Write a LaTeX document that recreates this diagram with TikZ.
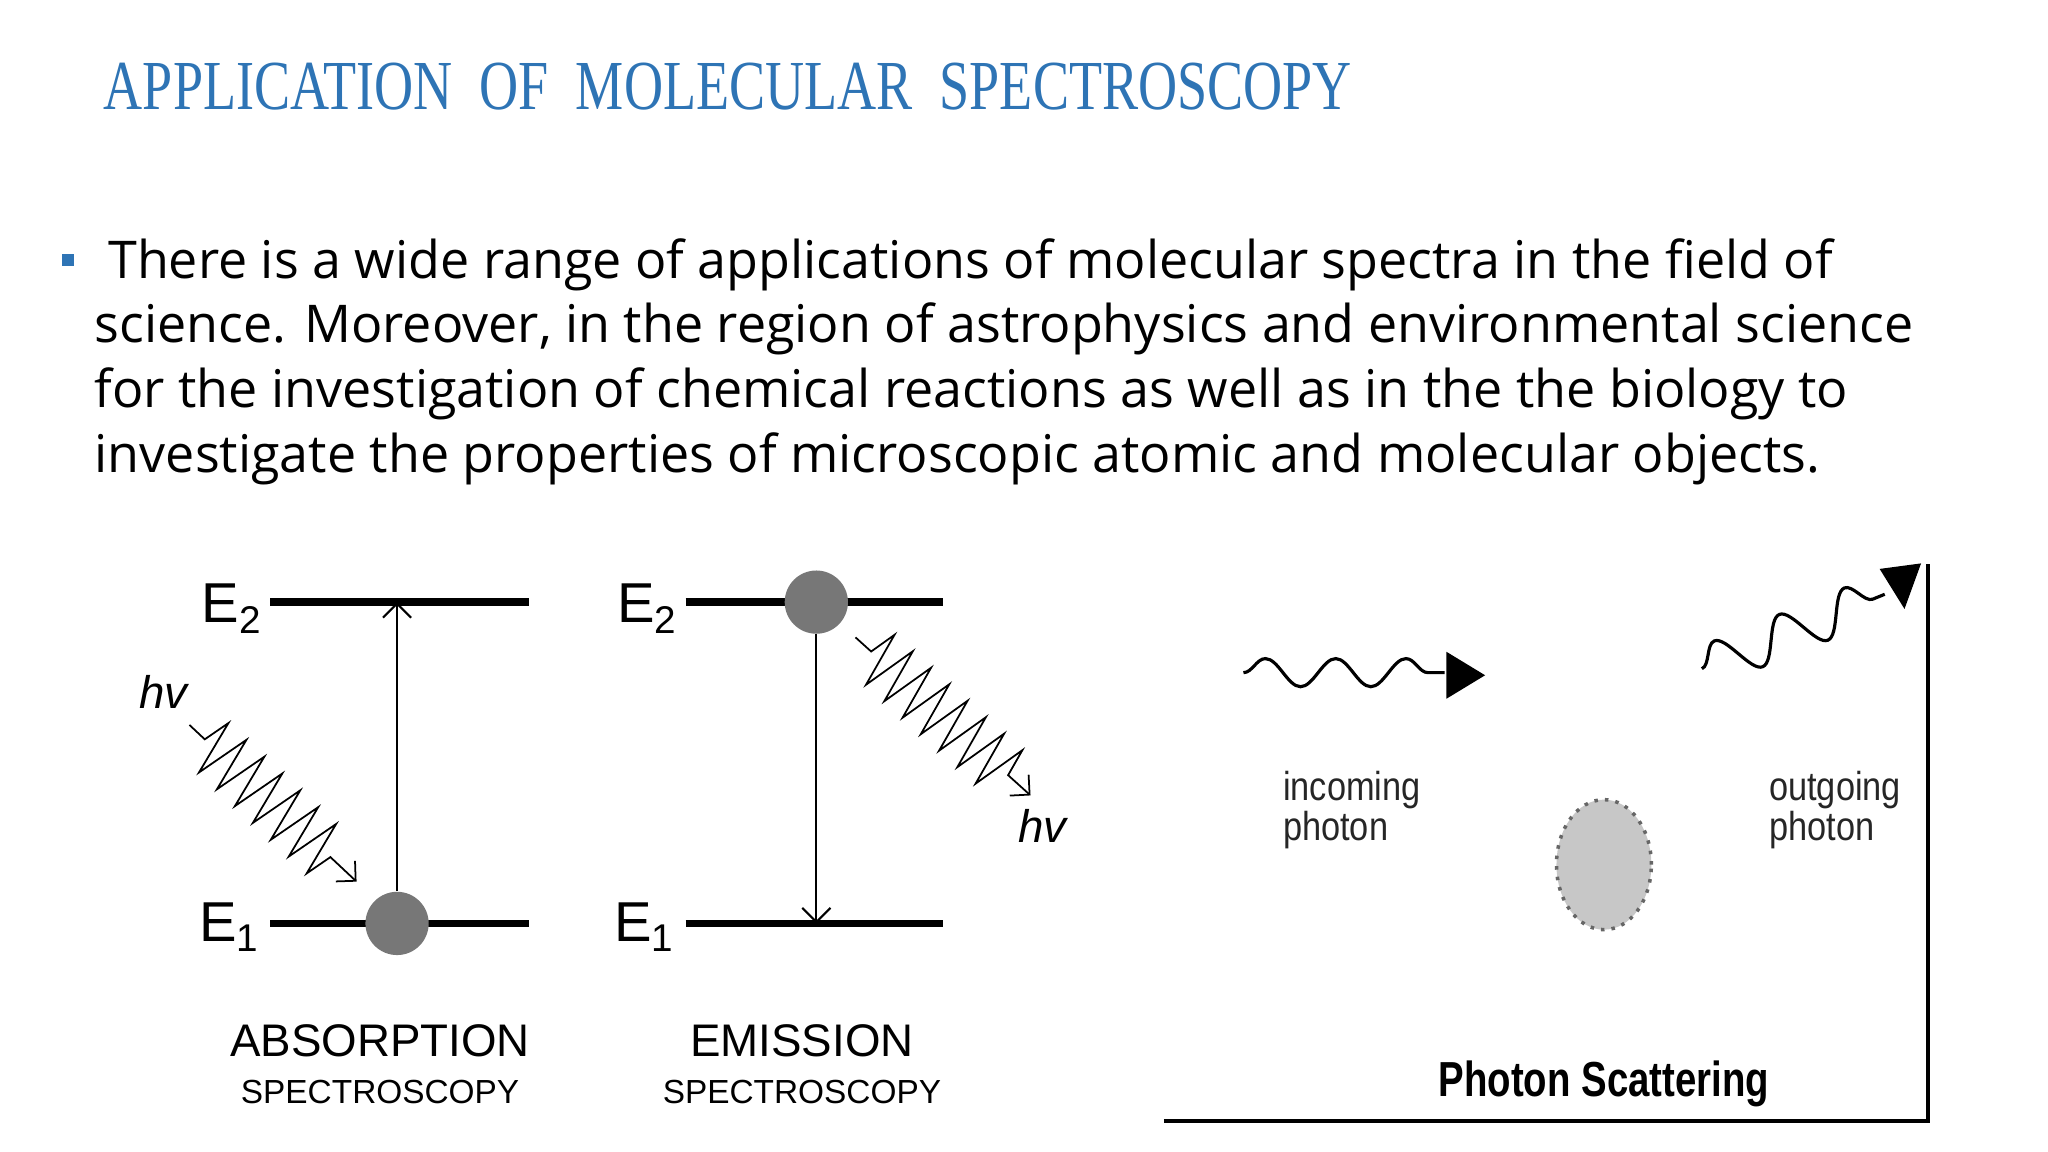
\documentclass[tikz,border=0pt]{standalone}
\usepackage{fontspec}
\setmainfont{Open Sans}
\newfontfamily\titlefont[FakeStretch=0.77]{Liberation Serif}
\newfontfamily\arialf{Liberation Sans}
\newfontfamily\arialn[FakeStretch=0.85]{Liberation Sans}
\usetikzlibrary{decorations.pathmorphing,arrows.meta,shapes.geometric}
\definecolor{tblue}{HTML}{2E74B5}
\definecolor{dotgray}{HTML}{777777}
\newcommand{\lsub}[1]{\raisebox{-0.35ex}{\fontsize{11}{11}\selectfont #1}}
\tikzset{
  lvl/.style={line width=2.2pt},
  dot/.style={circle,fill=dotgray,minimum size=18pt,inner sep=0pt},
  elab/.style={font=\arialf\fontsize{16}{16}\selectfont},
  zz/.style={decorate,decoration={zigzag,segment length=7pt,amplitude=8pt,pre length=6pt,post length=8pt},-{Straight Barb[length=4pt]},line width=0.5pt},
  wav/.style={decorate,decoration={snake,segment length=20pt,amplitude=4pt},line width=0.9pt}
}
\begin{document}
\begin{tikzpicture}[x=0.01306cm,y=-0.01306cm]
\useasboundingbox (0,0) rectangle (1568,882);
\node[anchor=west,text=tblue,font=\titlefont\fontsize{20}{20}\selectfont] (title) at (70,66) {APPLICATION\ \ OF\ \ MOLECULAR\ \ SPECTROSCOPY};
\node[fill=tblue,minimum size=3.6pt,inner sep=0pt] (bul) at (52,199) {};
\node[anchor=north west,align=left,font=\fontsize{14.8}{18.4}\selectfont,inner sep=0pt] (body) at (72,182) {\ There is a wide range of applications of molecular spectra in the field of\\science. Moreover, in the region of astrophysics and environmental science\\for the investigation of chemical reactions as well as in the the biology to\\investigate the properties of microscopic atomic and molecular objects.};
% absorption
\coordinate (a2l) at (207,461); \coordinate (a2r) at (405,461);
\coordinate (a1l) at (207,707); \coordinate (a1r) at (405,707);
\draw[lvl] (a2l) -- (a2r); \draw[lvl] (a1l) -- (a1r);
\node[dot] (adot) at (304,707) {};
\coordinate (atop) at (304,461);
\draw[-{Straight Barb[length=4pt]},line width=0.6pt] (adot) -- (atop);
\node[elab] (aE2) at (177,466) {E\lsub{2}};
\node[elab] (aE1) at (175,710) {E\lsub{1}};
\node[font=\arialf\itshape\fontsize{13}{13}\selectfont] (ahv) at (125,530) {hv};
\coordinate (az1) at (145,555); \coordinate (az2) at (273,675);
\draw[zz] (az1) -- (az2);
\node[font=\arialf\fontsize{13}{13}\selectfont] (aT1) at (291,797) {ABSORPTION};
\node[font=\arialf\fontsize{9.5}{9.5}\selectfont] (aT2) at (291,836) {SPECTROSCOPY};
% emission
\coordinate (e2l) at (525,461); \coordinate (e2r) at (722,461);
\coordinate (e1l) at (525,707); \coordinate (e1r) at (722,707);
\draw[lvl] (e2l) -- (e2r); \draw[lvl] (e1l) -- (e1r);
\node[dot] (edot) at (625,461) {};
\coordinate (ebot) at (625,707);
\draw[-{Straight Barb[length=4pt]},line width=0.6pt] (edot) -- (ebot);
\node[elab] (eE2) at (495,466) {E\lsub{2}};
\node[elab] (eE1) at (493,710) {E\lsub{1}};
\node[font=\arialf\itshape\fontsize{13}{13}\selectfont] (ehv) at (798,632) {hv};
\coordinate (ez1) at (655,488); \coordinate (ez2) at (789,609);
\draw[zz] (ez1) -- (ez2);
\node[font=\arialf\fontsize{13}{13}\selectfont] (eT1) at (614,797) {EMISSION};
\node[font=\arialf\fontsize{9.5}{9.5}\selectfont] (eT2) at (614,836) {SPECTROSCOPY};
% scattering
\coordinate (fbl) at (891,858); \coordinate (fbr) at (1476,858); \coordinate (ftr) at (1476,432);
\draw[line width=1.2pt] (fbl) -- (fbr) -- (ftr);
\coordinate (w1a) at (952,515); \coordinate (w1b) at (1106,515);
\draw[wav] (w1a) -- (w1b);
\coordinate (w1t) at (1136,517);
\draw[fill=black] (1108,500) -- (w1t) -- (1108,534) -- cycle;
\coordinate (w2a) at (1303,512); \coordinate (w2b) at (1443,455);
\draw[wav,decoration={amplitude=6pt}] (w2a) -- (w2b);
\draw[fill=black] (1440,436) -- (1470,432) -- (1458,465) -- cycle;
\node[ellipse,minimum width=27pt,minimum height=37pt,fill=black!22,draw=black!60,dotted,line width=1pt,inner sep=0pt] (mol) at (1228,662) {};
\node[align=left,font=\arialn\fontsize{11.5}{11.5}\selectfont,text=black!85] (inc) at (1035,620) {incoming\\photon};
\node[align=left,font=\arialn\fontsize{11.5}{11.5}\selectfont,text=black!85] (out) at (1405,620) {outgoing\\photon};
\node[font=\arialf\bfseries\fontsize{14}{14}\selectfont] (ps) at (1228,830) {\addfontfeature{FakeStretch=0.78}Photon Scattering};
\end{tikzpicture}
\end{document}
